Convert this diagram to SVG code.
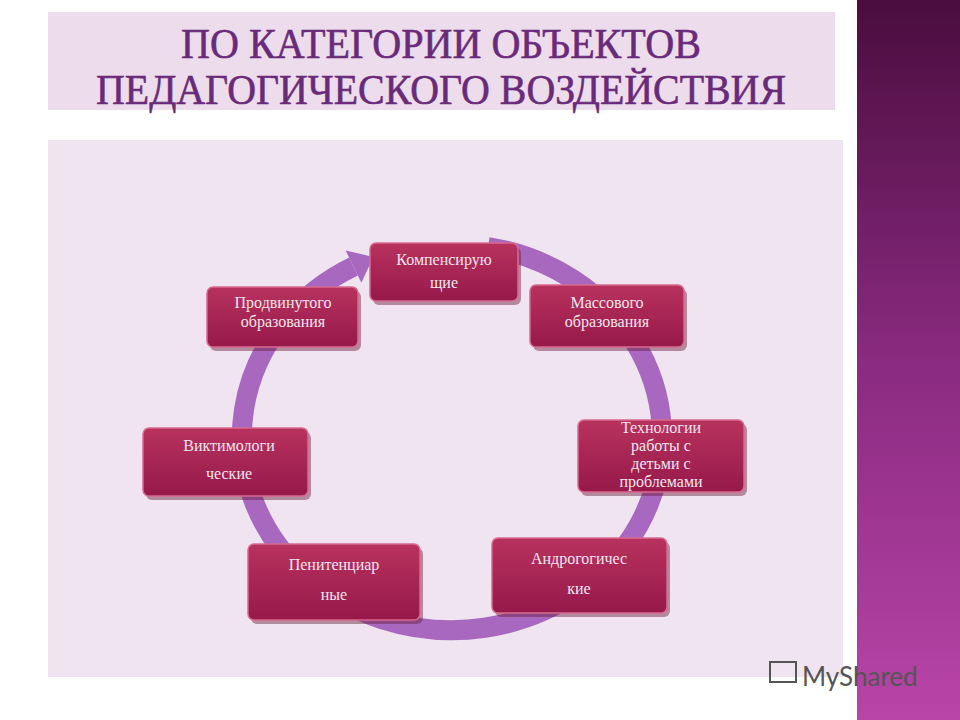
<svg xmlns="http://www.w3.org/2000/svg" width="960" height="720" viewBox="0 0 960 720">
<defs>
<linearGradient id="bar" x1="0" y1="0" x2="0" y2="1"><stop offset="0" stop-color="#4a0d3e"/><stop offset="0.5" stop-color="#8a2a80"/><stop offset="1" stop-color="#b845a8"/></linearGradient>
<linearGradient id="nf" x1="0" y1="0" x2="0" y2="1"><stop offset="0" stop-color="#b8325e"/><stop offset="1" stop-color="#96194a"/></linearGradient>
</defs>
<style>
.node rect.s{fill:#6a1a3a;opacity:0.45}
.node rect.b{fill:url(#nf);stroke:#d86a90;stroke-width:1.5}
.node text{font-family:"Liberation Serif",serif;font-size:16px;fill:#f3e6ee;text-anchor:middle}
.title{font-family:"Liberation Serif",serif;font-size:43px;fill:#6a2a7a;text-anchor:middle;stroke:#6a2a7a;stroke-width:0.6}
</style>
<rect width="960" height="720" fill="#fff"/>
<rect x="857" y="0" width="103" height="720" fill="url(#bar)"/>
<rect x="48" y="12" width="787" height="98" fill="#ecdcec"/>
<text class="title" x="441" y="58" textLength="520" lengthAdjust="spacingAndGlyphs">ПО КАТЕГОРИИ ОБЪЕКТОВ</text>
<text class="title" x="441" y="104" textLength="690" lengthAdjust="spacingAndGlyphs">ПЕДАГОГИЧЕСКОГО ВОЗДЕЙСТВИЯ</text>
<rect x="48" y="140" width="795" height="537" fill="#efe4f0"/>
<g id="connectors">
<path d="M 488,247 A 210 193 0 1 1 353.5,266.6" fill="none" stroke="#a868c0" stroke-width="20"/>
<path d="M 373.3,256.9 L 361.4,282.8 L 345.6,250.4 Z" fill="#a868c0"/>
</g>
<g id="n1" class="node"><rect class="s" x="373" y="247" width="148" height="58" rx="6"/><rect class="b" x="370" y="243" width="148" height="58" rx="6"/><text x="444" y="265">Компенсирую</text><text x="444" y="288">щие</text></g>
<g id="n2" class="node"><rect class="s" x="533" y="289" width="154" height="62" rx="6"/><rect class="b" x="530" y="285" width="154" height="62" rx="6"/><text x="607" y="308">Массового</text><text x="607" y="327">образования</text></g>
<g id="n3" class="node"><rect class="s" x="581" y="424" width="166" height="72" rx="6"/><rect class="b" x="578" y="420" width="166" height="72" rx="6"/><text x="661" y="433">Технологии</text><text x="661" y="451">работы с</text><text x="661" y="469">детьми с</text><text x="661" y="487">проблемами</text></g>
<g id="n4" class="node"><rect class="s" x="495" y="542" width="175" height="75" rx="6"/><rect class="b" x="492" y="538" width="175" height="75" rx="6"/><text x="579" y="564">Андрогогичес</text><text x="579" y="594">кие</text></g>
<g id="n5" class="node"><rect class="s" x="251" y="548" width="172" height="76" rx="6"/><rect class="b" x="248" y="544" width="172" height="76" rx="6"/><text x="334" y="570">Пенитенциар</text><text x="334" y="600">ные</text></g>
<g id="n6" class="node"><rect class="s" x="146" y="432" width="165" height="68" rx="6"/><rect class="b" x="143" y="428" width="165" height="68" rx="6"/><text x="229" y="451">Виктимологи</text><text x="229" y="479">ческие</text></g>
<g id="n7" class="node"><rect class="s" x="210" y="291" width="151" height="60" rx="6"/><rect class="b" x="207" y="287" width="151" height="60" rx="6"/><text x="283" y="308">Продвинутого</text><text x="283" y="327">образования</text></g>
<g id="logo">
<rect x="770" y="662" width="26" height="20" fill="none" stroke="#555" stroke-width="2"/>
<text x="802" y="686" font-family="Lato,sans-serif" font-size="26" fill="#555">MyShared</text>
</g>
</svg>
